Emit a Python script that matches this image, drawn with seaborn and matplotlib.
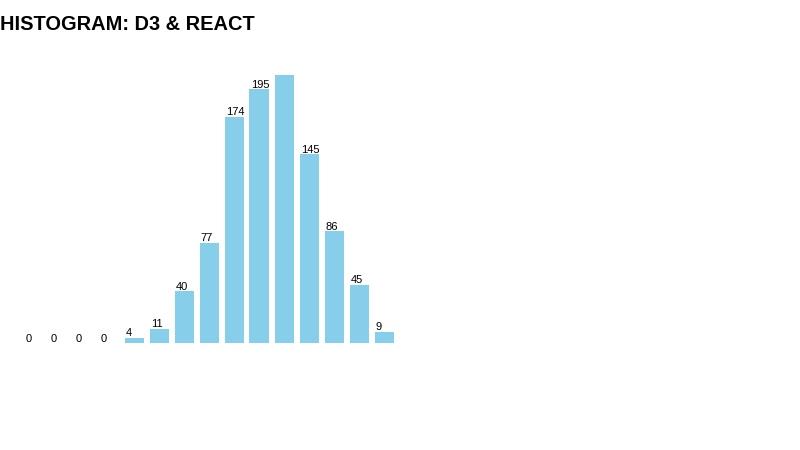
import matplotlib
matplotlib.use("Agg")
import matplotlib.pyplot as plt
import seaborn as sns

# histogram bins and their counts
bins = list(range(15))
counts = [0, 0, 0, 0, 4, 11, 40, 77, 174, 195, 206, 145, 86, 45, 9]
# the tallest bar shows no label in the reference
labelled = [True] * 10 + [False] + [True] * 4

sns.set_theme(style="white")
plt.rcParams["font.family"] = ["Liberation Sans", "DejaVu Sans"]

fig = plt.figure(figsize=(8, 4.5), dpi=100)
ax = fig.add_axes([0, (450 - 343.3) / 450, 1, (343.3 - 75) / 450])

sns.barplot(x=bins, y=counts, color="#87CEEB", saturation=1, width=0.76,
            linewidth=0, ax=ax)

for i, (v, show) in enumerate(zip(counts, labelled)):
    if show:
        ax.annotate(str(v), (i - 0.38, v), xytext=(0.8, 1.2), textcoords="offset points",
                    ha="left", va="baseline", fontsize=8, color="black")

ax.set_xlim(-1.36, 30.64)
ax.set_ylim(0, max(counts))
ax.axis("off")

fig.text(0.0, 1 - 30 / 450, "HISTOGRAM: D3 & REACT", fontsize=14.4,
         fontweight="bold", ha="left", va="baseline", color="black")

fig.savefig("out.png", dpi=100)
